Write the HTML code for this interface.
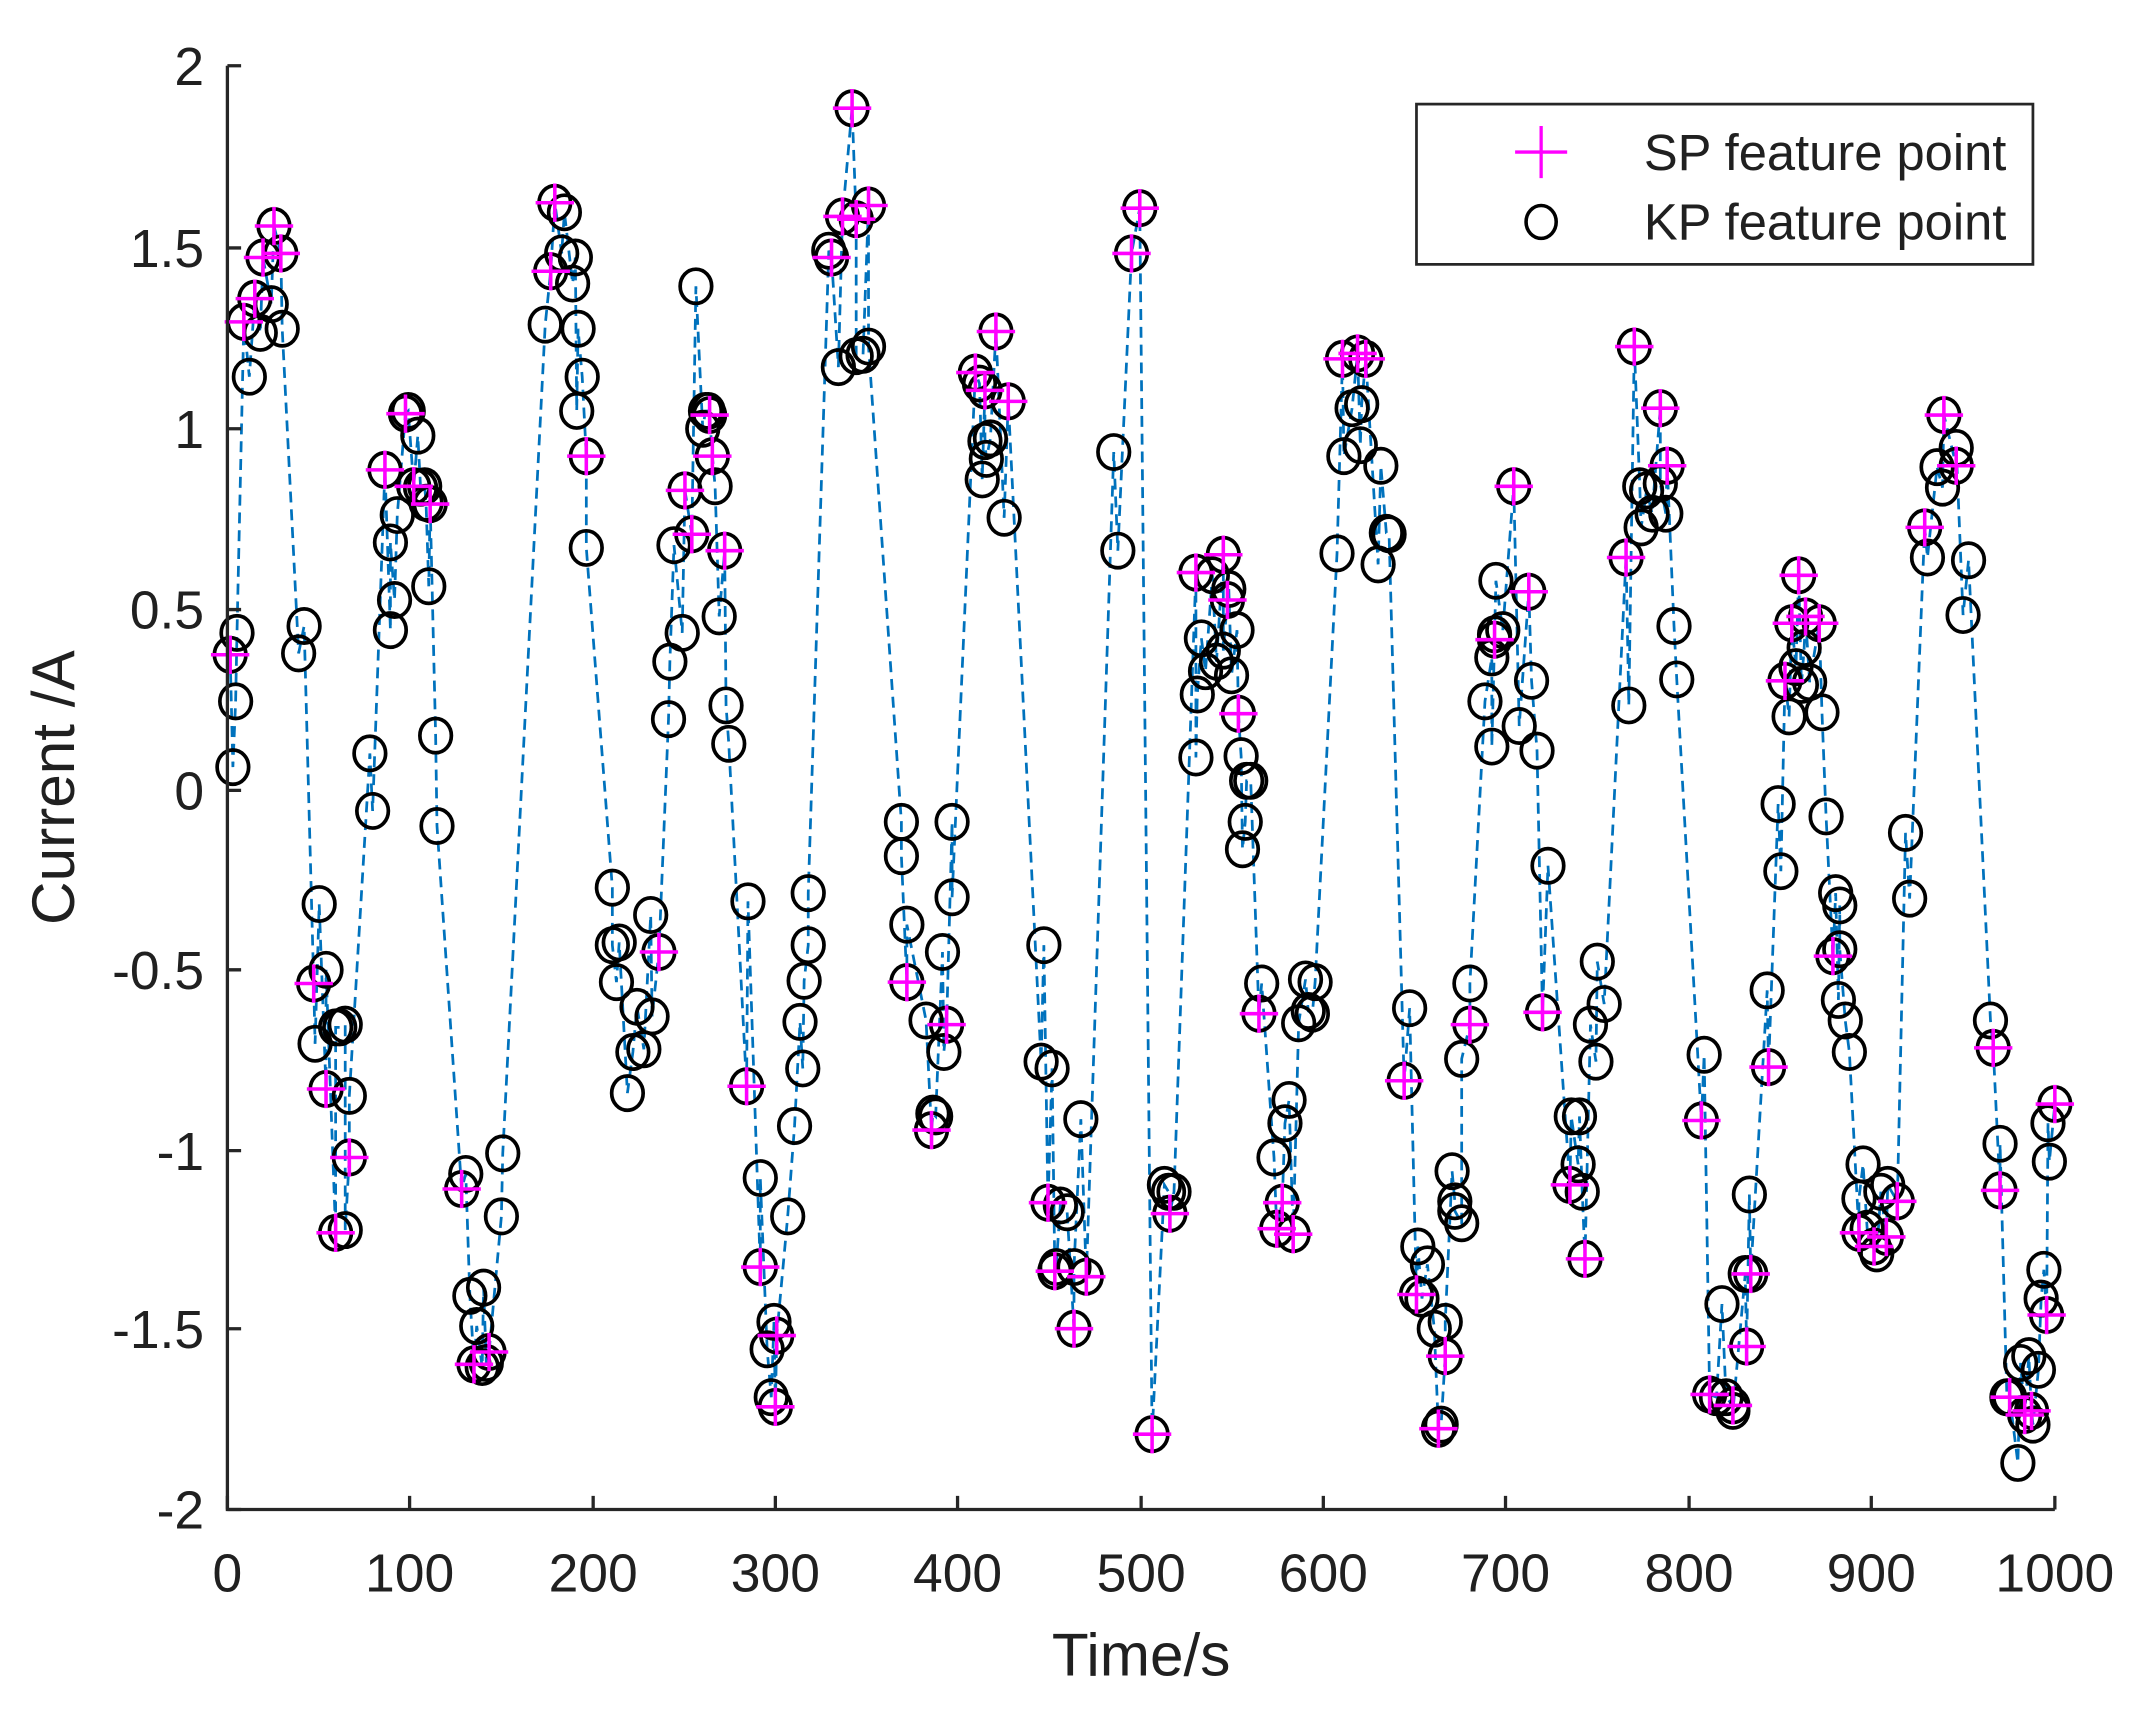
<!DOCTYPE html>
<html><head><meta charset="utf-8"><style>
html,body{margin:0;padding:0;background:#fff;}
svg{display:block;}
text{font-family:"Liberation Sans",Arial,sans-serif;fill:#202020;}
</style></head><body>
<svg id="s" width="2148" height="1715" viewBox="0 0 1568 1252" preserveAspectRatio="none" xmlns="http://www.w3.org/2000/svg">
<rect width="1568" height="1252" fill="#fff"/>
<g id="line"></g>
<g id="marks"></g>
<g stroke="#262626" stroke-width="2.4" fill="none">
<path d="M166,48 V1102 H1500"/>
<path d="M166,48h10M166,181h10M166,313h10M166,445h10M166,577h10M166,708h10M166,840h10M166,970h10M166,1102h10"/>
<path d="M166,1102v-10M299,1102v-10M433,1102v-10M566,1102v-10M699,1102v-10M833,1102v-10M966,1102v-10M1099,1102v-10M1233,1102v-10M1366,1102v-10M1500,1102v-10"/>
</g>
<g font-size="39" text-anchor="end">
<text x="149" y="62">2</text><text x="149" y="195">1.5</text><text x="149" y="327">1</text><text x="149" y="459">0.5</text><text x="149" y="591">0</text><text x="149" y="722">-0.5</text><text x="149" y="854">-1</text><text x="149" y="984">-1.5</text><text x="149" y="1116">-2</text>
</g>
<g font-size="39" text-anchor="middle">
<text x="166" y="1162">0</text><text x="299" y="1162">100</text><text x="433" y="1162">200</text><text x="566" y="1162">300</text><text x="699" y="1162">400</text><text x="833" y="1162">500</text><text x="966" y="1162">600</text><text x="1099" y="1162">700</text><text x="1233" y="1162">800</text><text x="1366" y="1162">900</text><text x="1500" y="1162">1000</text>
</g>
<text x="833" y="1223" font-size="44" text-anchor="middle">Time/s</text>
<text transform="translate(54,575) rotate(-90)" font-size="44" text-anchor="middle">Current /A</text>
<rect x="1034" y="76" width="450" height="117" fill="#fff" stroke="#262626" stroke-width="2"/>
<path d="M1106,111h38M1125,92v38" stroke="#ff00ff" stroke-width="2.4"/>
<ellipse cx="1125" cy="162" rx="11" ry="12" fill="none" stroke="#000" stroke-width="2.6"/>
<text x="1200" y="124" font-size="37" fill="#000">SP feature point</text>
<text x="1200" y="175" font-size="37" fill="#000">KP feature point</text>
</svg>
<script>
var P=[[168,478],[178,235],[186,218],[192,188],[200,165],[205,185],[229,718],[238,795],[255,845],[245,900],[281,343],[296,302],[302,355],[314,368],[337,868],[346,996],[357,987],[402,198],[405,148],[428,333],[481,695],[500,358],[505,390],[518,303],[520,333],[529,402],[545,793],[555,925],[567,975],[566,1027],[607,188],[615,158],[625,160],[622,79],[634,150],[662,717],[680,825],[691,748],[712,272],[719,285],[727,242],[736,293],[765,878],[770,928],[784,970],[793,932],[826,185],[832,152],[841,1047],[854,886],[873,418],[893,405],[896,438],[904,521],[919,740],[932,897],[936,878],[944,901],[980,262],[991,258],[997,262],[1025,789],[1034,945],[1050,1043],[1055,990],[1073,748],[1091,467],[1105,355],[1116,432],[1126,739],[1146,865],[1157,919],[1187,407],[1193,253],[1212,298],[1217,340],[1242,818],[1248,1018],[1265,1026],[1275,983],[1278,930],[1291,779],[1303,497],[1308,455],[1313,420],[1318,450],[1328,455],[1338,698],[1357,900],[1368,910],[1377,903],[1385,877],[1405,385],[1419,303],[1428,340],[1455,765],[1460,869],[1467,1020],[1478,1033],[1483,1030],[1494,960],[1500,806]];
var C=[[170,560],[173,462],[172,512],[182,275],[190,243],[198,222],[206,240],[218,477],[222,457],[233,660],[230,762],[238,708],[245,750],[248,750],[252,748],[255,800],[252,898],[270,550],[272,592],[285,460],[288,438],[285,396],[290,376],[298,300],[305,318],[307,356],[310,355],[311,367],[313,428],[318,537],[319,603],[340,857],[343,946],[348,968],[352,998],[353,940],[355,995],[366,888],[367,842],[398,237],[410,185],[412,155],[418,207],[420,188],[422,240],[425,275],[421,300],[428,400],[447,648],[447,690],[450,717],[452,688],[458,798],[462,768],[465,735],[470,766],[475,668],[476,742],[488,525],[489,483],[492,398],[498,462],[508,209],[515,300],[513,313],[517,300],[522,355],[525,450],[530,515],[532,543],[546,658],[555,860],[560,985],[565,965],[563,1020],[575,888],[580,822],[586,780],[584,746],[587,716],[590,690],[590,652],[605,183],[612,268],[625,260],[630,259],[634,253],[658,600],[658,625],[662,675],[676,745],[681,813],[683,815],[689,768],[695,600],[695,655],[688,695],[715,280],[717,350],[719,322],[720,335],[723,320],[733,378],[760,775],[762,690],[768,780],[771,925],[774,880],[779,885],[784,925],[789,817],[813,330],[816,402],[850,865],[853,870],[857,870],[874,507],[873,553],[877,466],[880,490],[885,420],[888,483],[893,475],[897,430],[899,493],[903,460],[906,552],[910,570],[913,570],[909,600],[907,620],[921,718],[930,845],[938,820],[941,803],[948,747],[953,715],[955,738],[958,740],[960,717],[976,404],[981,333],[987,298],[993,325],[994,295],[1006,412],[1008,340],[1012,389],[1014,390],[1029,736],[1035,910],[1038,948],[1042,923],[1047,970],[1055,965],[1052,1040],[1060,855],[1062,877],[1062,884],[1067,893],[1067,773],[1073,718],[1084,512],[1089,480],[1089,545],[1091,463],[1092,424],[1097,460],[1109,530],[1118,497],[1122,548],[1130,632],[1147,815],[1152,850],[1153,815],[1155,870],[1161,748],[1165,775],[1166,702],[1171,733],[1189,515],[1197,355],[1198,385],[1202,358],[1206,375],[1212,353],[1216,375],[1222,457],[1224,496],[1244,770],[1253,1020],[1257,952],[1260,1020],[1265,1030],[1274,930],[1277,872],[1290,723],[1298,587],[1300,636],[1306,523],[1311,487],[1315,500],[1317,473],[1321,498],[1330,520],[1333,596],[1340,652],[1343,661],[1343,693],[1342,730],[1347,745],[1350,768],[1357,875],[1360,850],[1363,897],[1370,915],[1373,870],[1378,865],[1391,608],[1394,656],[1407,407],[1414,341],[1418,356],[1428,327],[1433,449],[1437,409],[1453,745],[1460,835],[1465,1020],[1473,1068],[1475,995],[1481,990],[1484,1040],[1488,1000],[1492,927],[1490,948],[1495,820],[1496,848]];
var ns="http://www.w3.org/2000/svg";
var all=P.concat(C).sort(function(a,b){return a[0]-b[0];});
var d="M"+all.map(function(p){return p[0]+","+p[1];}).join(" L");
var l=document.createElementNS(ns,"path");
l.setAttribute("d",d);l.setAttribute("fill","none");l.setAttribute("stroke","#0072BD");
l.setAttribute("stroke-width","2");l.setAttribute("stroke-dasharray","8,5");
document.getElementById("line").appendChild(l);
var g=document.getElementById("marks");
var h="";
P.concat(C).forEach(function(p){h+='<ellipse cx="'+p[0]+'" cy="'+p[1]+'" rx="11.5" ry="12.5" fill="none" stroke="#000" stroke-width="2.7"/>';});
P.forEach(function(p){h+='<path d="M'+(p[0]-14)+','+p[1]+'h28M'+p[0]+','+(p[1]-14)+'v28" stroke="#ff00ff" stroke-width="2.6"/>';});
g.innerHTML=h;
</script>
</body></html>
